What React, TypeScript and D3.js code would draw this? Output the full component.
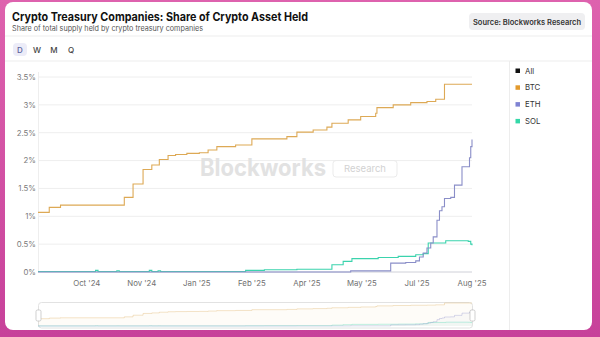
import React from "react";
import * as d3 from "d3";

const btcDates = ["2024-09-01","2024-09-10","2024-09-19","2024-11-09","2024-11-16","2024-11-24","2024-12-01","2024-12-07","2024-12-14","2024-12-20","2024-12-29","2025-01-08","2025-01-15","2025-01-22","2025-02-06","2025-02-19","2025-03-19","2025-03-27","2025-04-09","2025-04-20","2025-04-24","2025-05-07","2025-05-17","2025-05-29","2025-05-30","2025-06-12","2025-06-26","2025-07-09","2025-07-16","2025-07-23","2025-08-14"];
const btcValues = [1.07,1.16,1.2,1.34,1.58,1.84,1.92,2.02,2.09,2.11,2.13,2.14,2.19,2.25,2.28,2.39,2.43,2.51,2.55,2.6,2.67,2.73,2.79,2.85,2.95,3.0,3.04,3.06,3.1,3.37,3.37];

const ethDates = ["2024-09-01","2025-05-09","2025-06-10","2025-06-22","2025-06-30","2025-07-03","2025-07-06","2025-07-09","2025-07-12","2025-07-14","2025-07-17","2025-07-19","2025-07-21","2025-07-23","2025-07-28","2025-07-31","2025-08-06","2025-08-12","2025-08-13","2025-08-14"];
const ethValues = [0,0.02,0.16,0.17,0.2,0.27,0.34,0.43,0.52,0.63,0.93,1.1,1.17,1.32,1.34,1.56,1.89,2.05,2.25,2.38];

const solDates = ["2024-09-01","2024-10-17","2024-10-19","2024-11-03","2024-11-05","2024-11-29","2024-12-01","2024-12-06","2024-12-08","2025-02-14","2025-03-01","2025-03-27","2025-04-24","2025-05-03","2025-05-10","2025-05-31","2025-06-16","2025-06-30","2025-07-06","2025-07-10","2025-07-24","2025-08-11","2025-08-13","2025-08-14"];
const solValues = [0.01,0.03,0.01,0.02,0.01,0.03,0.01,0.02,0.01,0.03,0.04,0.05,0.13,0.19,0.24,0.26,0.28,0.31,0.33,0.52,0.56,0.55,0.5,0.48];

const yTicks = [0, 0.5, 1, 1.5, 2, 2.5, 3, 3.5];
const xTickDates = ["2024-10-10","2024-11-23","2025-01-06","2025-02-19","2025-04-04","2025-05-18","2025-07-01","2025-08-14"];
const legendNames = ["All", "BTC", "ETH", "SOL"];
const legendColors = ["#111111", "#e39a2d", "#7f83d3", "#34d8a8"];
const tabs = ["D", "W", "M", "Q"];

const parse = d3.timeParse("%Y-%m-%d");

export default function App() {
  const x = d3.scaleTime().domain([parse("2024-09-01")!, parse("2025-08-14")!]).range([38, 472]);
  const y = d3.scaleLinear().domain([0, 3.5]).range([272, 77]);
  const ySl = d3.scaleLinear().domain([0, 3.37]).range([326, 303]);

  const mk = (ds: string[], vs: number[]) => ds.map((d, i) => ({ d: parse(d)!, v: vs[i] }));
  const series = [
    { name: "BTC", data: mk(btcDates, btcValues), color: "#dda955" },
    { name: "SOL", data: mk(solDates, solValues), color: "#3bd3ad" },
    { name: "ETH", data: mk(ethDates, ethValues), color: "#8a8ec8" },
  ];
  const line = d3.line<any>().x((p) => x(p.d)).y((p) => y(p.v)).curve(d3.curveStepAfter);
  const lineSl = d3.line<any>().x((p) => x(p.d)).y((p) => ySl(p.v)).curve(d3.curveStepAfter);
  const areaSl = d3.area<any>().x((p) => x(p.d)).y0(326).y1((p) => ySl(p.v)).curve(d3.curveStepAfter);
  const fmt = d3.timeFormat("%b '%y");
  const font = "Inter, 'Noto Sans', sans-serif";

  return (
    <div style={{ position: "fixed", left: 0, top: 0, width: 600, height: 337 }}>
      <svg width={600} height={337} style={{ display: "block", fontFamily: font }}>
        <defs>
          <linearGradient id="bg" x1="0" y1="0" x2="0" y2="1">
            <stop offset="0" stopColor="#de62ae" />
            <stop offset="1" stopColor="#c7419a" />
          </linearGradient>
        </defs>
        <rect width={600} height={337} fill="url(#bg)" />
        <rect x={5} y={2} width={587} height={328} rx={8} fill="#ffffff" />

        {/* header */}
        <text x={12} y={21} fontSize={12} fontWeight={700} fill="#111" textLength={296} lengthAdjust="spacingAndGlyphs">
          Crypto Treasury Companies: Share of Crypto Asset Held
        </text>
        <text x={12} y={31} fontSize={7.5} fill="#555" textLength={191} lengthAdjust="spacingAndGlyphs">
          Share of total supply held by crypto treasury companies
        </text>
        <rect x={469} y={13} width={116} height={17} rx={4} fill="#efeff1" />
        <text x={527} y={24.5} fontSize={7.5} fontWeight={600} fill="#333" textAnchor="middle">
          Source: Blockworks Research
        </text>
        <line x1={5} x2={592} y1={36} y2={36} stroke="#ededed" />
        <rect x={13} y={43} width={14} height={13} rx={4} fill="#ececf8" />
        {tabs.map((t, i) => (
          <text key={t} x={20 + i * 17} y={52.5} fontSize={8} fontWeight={500} textAnchor="middle" fill={i === 0 ? "#5a5f9a" : "#444"}>
            {t}
          </text>
        ))}
        <line x1={5} x2={592} y1={61} y2={61} stroke="#ededed" />

        {/* grid */}
        {yTicks.map((t) => (
          <g key={t}>
            <line x1={38} x2={472} y1={y(t)} y2={y(t)} stroke={t === 0 ? "#cfd0d8" : "#eeeeee"} />
            <text x={36} y={y(t) + 2.8} fontSize={7.8} fill="#7a7a7a" textAnchor="end">
              {t === 0 ? "0%" : `${t}%`}
            </text>
          </g>
        ))}
        <line x1={38.5} x2={38.5} y1={72} y2={272} stroke="#eeeeee" />
        {xTickDates.map((d) => (
          <text key={d} x={x(parse(d)!)} y={285.5} fontSize={7.8} fill="#707070" textAnchor="middle">
            {fmt(parse(d)!)}
          </text>
        ))}

        {/* watermark */}
        <text x={200} y={176} fontSize={24} fontWeight={700} fill="#e2e2e2" textLength={126} lengthAdjust="spacingAndGlyphs">
          Blockworks
        </text>
        <rect x={333} y={160.5} width={64} height={16.5} rx={3} fill="none" stroke="#ebebeb" />
        <text x={365} y={172} fontSize={9.5} fill="#d2d2d2" textAnchor="middle">
          Research
        </text>

        {/* lines */}
        {series.map((s) => (
          <path key={s.name} d={line(s.data)!} fill="none" stroke={s.color} strokeWidth={1.1} />
        ))}

        {/* slider */}
        <rect x={38.5} y={302.5} width={434} height={25.5} rx={3} fill="#fff" stroke="#e2e2e2" />
        {series.map((s) => (
          <path key={"a" + s.name} d={areaSl(s.data)!} fill={s.color} fillOpacity={0.04} stroke="none" />
        ))}
        {series.map((s) => (
          <path key={"l" + s.name} d={lineSl(s.data)!} fill="none" stroke={s.color} strokeOpacity={0.4} strokeWidth={0.8} />
        ))}
        <rect x={36} y={310} width={5} height={11} rx={1.5} fill="#fff" stroke="#bbb" strokeWidth={0.7} />
        <rect x={470} y={310} width={5} height={11} rx={1.5} fill="#fff" stroke="#bbb" strokeWidth={0.7} />

        {/* legend */}
        <line x1={509.5} x2={509.5} y1={61} y2={330} stroke="#ededed" />
        {legendNames.map((n, i) => (
          <g key={n}>
            <rect x={515.5} y={68.5 + i * 16.8} width={4.5} height={4.5} fill={legendColors[i]} />
            <text x={525} y={73.5 + i * 16.8} fontSize={7.8} fill="#333">
              {n}
            </text>
          </g>
        ))}
      </svg>
    </div>
  );
}
